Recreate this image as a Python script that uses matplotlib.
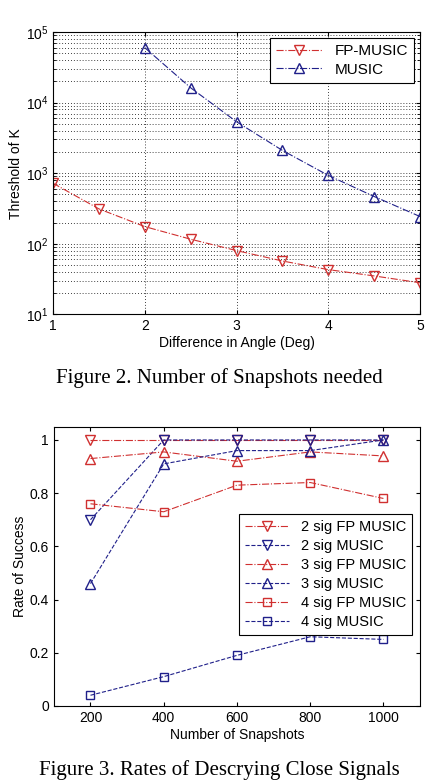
import numpy as np
import matplotlib
matplotlib.use("Agg")
import matplotlib.pyplot as plt

plt.rcParams['font.family'] = ['Liberation Sans', 'DejaVu Sans']
plt.rcParams['mathtext.fontset'] = 'custom'
plt.rcParams['mathtext.rm'] = 'Liberation Sans'
plt.rcParams['xtick.direction'] = 'in'
plt.rcParams['ytick.direction'] = 'in'

# === Figure 2 data ===
angle_diff = [1, 1.5, 2, 2.5, 3, 3.5, 4, 4.5, 5]
fp_music_k = [720, 312, 175, 116, 80, 57, 43, 35, 28]
music_angle = [2, 2.5, 3, 3.5, 4, 4.5, 5]
music_k = [60000, 16200, 5350, 2100, 930, 467, 243]

# === Figure 3 data ===
snapshots = [200, 400, 600, 800, 1000]
sig2_fp = [1.0, 1.0, 1.0, 1.0, 1.0]
sig2_music = [0.70, 1.0, 1.0, 1.0, 1.0]
sig3_fp = [0.93, 0.955, 0.92, 0.955, 0.94]
sig3_music = [0.46, 0.91, 0.96, 0.96, 1.0]
sig4_fp = [0.76, 0.73, 0.83, 0.84, 0.78]
sig4_music = [0.04, 0.11, 0.19, 0.26, 0.25]

RED = "#d03030"
BLUE = "#20208a"
GRID = dict(color='black', linestyle=(0, (1, 2.5)), lw=0.6)

fig = plt.figure(figsize=(4.38, 7.80), dpi=100)

# --- top plot ---
ax1 = fig.add_axes([0.121, 0.597, 0.838, 0.362])
ax1.semilogy(angle_diff, fp_music_k, linestyle='-.', color=RED, lw=0.8,
             marker='v', mfc='none', mec=RED, ms=6.5, label="FP-MUSIC")
ax1.semilogy(music_angle, music_k, linestyle='-.', color=BLUE, lw=0.8,
             marker='^', mfc='none', mec=BLUE, ms=6.5, label="MUSIC")
ax1.set_xlim(1, 5)
ax1.set_ylim(10, 1e5)
ax1.set_xticks([1, 2, 3, 4, 5])
ax1.grid(True, which='major', **GRID)
ax1.grid(True, which='minor', axis='y', **GRID)
ax1.tick_params(which='both', top=True, right=True, labelsize=10, length=3)
ax1.tick_params(which='minor', length=2)
ax1.set_ylabel("Threshold of K", fontsize=10, labelpad=2)
ax1.set_xlabel("Difference in Angle (Deg)", fontsize=10, labelpad=2)
leg1 = ax1.legend(loc='upper right', fontsize=11, frameon=True, fancybox=False,
                  edgecolor='black', framealpha=1, borderaxespad=0.4,
                  handlelength=3, labelspacing=0.3)
leg1.get_frame().set_linewidth(0.8)

fig.text(0.5, 0.515, "Figure 2. Number of Snapshots needed", ha='center', va='center',
         fontsize=15, family=['Liberation Serif', 'DejaVu Serif'])

# --- bottom plot ---
ax2 = fig.add_axes([0.123, 0.095, 0.836, 0.358])
ax2.plot(snapshots, sig2_fp, linestyle='-.', color=RED, lw=0.8,
         marker='v', mfc='none', mec=RED, ms=6.5, label="2 sig FP MUSIC")
ax2.plot(snapshots, sig2_music, linestyle='--', color=BLUE, lw=0.8,
         marker='v', mfc='none', mec=BLUE, ms=6.5, label="2 sig MUSIC")
ax2.plot(snapshots, sig3_fp, linestyle='-.', color=RED, lw=0.8,
         marker='^', mfc='none', mec=RED, ms=6.5, label="3 sig FP MUSIC")
ax2.plot(snapshots, sig3_music, linestyle='--', color=BLUE, lw=0.8,
         marker='^', mfc='none', mec=BLUE, ms=6.5, label="3 sig MUSIC")
ax2.plot(snapshots, sig4_fp, linestyle='-.', color=RED, lw=0.8,
         marker='s', mfc='none', mec=RED, ms=6, label="4 sig FP MUSIC")
ax2.plot(snapshots, sig4_music, linestyle='--', color=BLUE, lw=0.8,
         marker='s', mfc='none', mec=BLUE, ms=6, label="4 sig MUSIC")
ax2.set_xlim(100, 1100)
ax2.set_ylim(0, 1.05)
ax2.set_xticks(snapshots)
ax2.set_yticks([0, 0.2, 0.4, 0.6, 0.8, 1])
ax2.set_yticklabels(["0", "0.2", "0.4", "0.6", "0.8", "1"])
ax2.tick_params(top=True, right=True, labelsize=10, length=3)
ax2.set_ylabel("Rate of Success", fontsize=10, labelpad=2)
ax2.set_xlabel("Number of Snapshots", fontsize=10, labelpad=2)
leg2 = ax2.legend(loc='center right', bbox_to_anchor=(0.997, 0.47), fontsize=10.5,
                  frameon=True, fancybox=False, edgecolor='black', framealpha=1,
                  handlelength=3, labelspacing=0.35)
leg2.get_frame().set_linewidth(0.8)

fig.text(0.5, 0.013, "Figure 3. Rates of Descrying Close Signals", ha='center', va='center',
         fontsize=15, family=['Liberation Serif', 'DejaVu Serif'])

fig.savefig("out.png", dpi=100)
